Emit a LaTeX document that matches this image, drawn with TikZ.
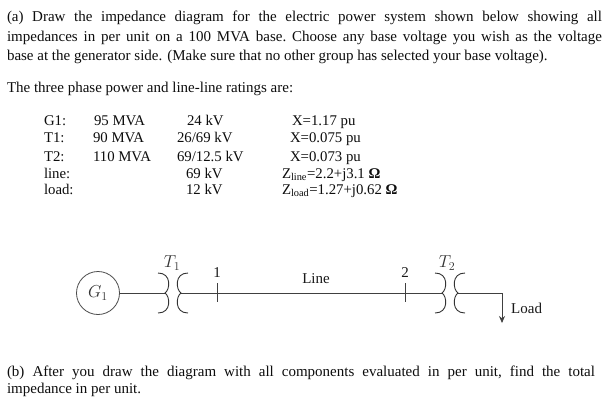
\documentclass[tikz,border=0pt]{standalone}
\usepackage{fontspec}
\setmainfont{Liberation Serif}
\usetikzlibrary{arrows.meta}
\tikzset{
  txt/.style={anchor=base west,inner sep=0pt,outer sep=0pt,font=\fontsize{15}{17}\selectfont,text=black!95},
  tab/.style={txt,font=\fontsize{14.8}{17}\selectfont},
  lab/.style={inner sep=0pt,font=\fontsize{15}{17}\selectfont,text=black!90},
  sym/.style={inner sep=0pt,font=\fontsize{17}{19}\selectfont,text=black!80},
  wire/.style={draw=black!75,line width=0.8pt},
  coil/.style={draw=black!80,line width=0.9pt},
}
\begin{document}
\begin{tikzpicture}[x=1pt,y=-1pt]
\useasboundingbox[fill=white] (0,0) rectangle (607,402);
\node[txt] (p1) at (7,21) {\makebox[595pt][s]{(a)\hfil Draw\hfil the\hfil impedance\hfil diagram\hfil for\hfil the\hfil electric\hfil power\hfil system\hfil shown\hfil below\hfil showing\hfil all}};
\node[txt] (p2) at (7,41) {\makebox[595pt][s]{impedances\hfil in\hfil per\hfil unit\hfil on\hfil a\hfil 100\hfil MVA\hfil base.\hfil Choose\hfil any\hfil base\hfil voltage\hfil you\hfil wish\hfil as\hfil the\hfil voltage}};
\node[txt] (p3) at (7,60) {base at the generator side. (Make sure that no other group has selected your base voltage).};
\node[txt] (p4) at (7,92) {The three phase power and line-line ratings are:};
\foreach \n/\y/\a/\xb/\b/\xc/\c/\xd/\d in {
 r1/125/G1:/94/95 MVA/187/24 kV/292/X=1.17 pu,
 r2/142/T1:/93/90 MVA/177/26\slash 69 kV/290/X=0.075 pu,
 r3/161/T2:/93/110 MVA/177/69\slash 12.5 kV/290/X=0.073 pu,
 r4/178/line:/0/{}/186/69 kV/282/{Z\textsubscript{line}=2.2+j3.1 \textbf{Ω}},
 r5/194/load:/0/{}/186/12 kV/282/{Z\textsubscript{load}=1.27+j0.62 \textbf{Ω}}}{
  \node[tab] (\n a) at (44,\y) {\a};
  \node[tab] (\n b) at (\xb,\y) {\b};
  \node[tab] (\n c) at (\xc,\y) {\c};
  \node[tab] (\n d) at (\xd,\y) {\d};
}
\node[txt] (q1) at (7,376) {\makebox[588pt][s]{(b)\hfil After\hfil you\hfil draw\hfil the\hfil diagram\hfil with\hfil all\hfil components\hfil evaluated\hfil in\hfil per\hfil unit,\hfil find\hfil the\hfil total}};
\node[txt] (q2) at (7,393) {impedance in per unit.};
% one-line diagram
\node[circle,draw=black!70,line width=0.8pt,minimum size=43pt,inner sep=0pt,sym] (G) at (98,293) {$G_1$};
\coordinate (t1l) at (165,293);
\coordinate (t1r) at (181,293);
\coordinate (t2l) at (442,293);
\coordinate (t2r) at (458,293);
\coordinate (b1t) at (217,283);
\coordinate (b1b) at (217,302);
\coordinate (b2t) at (405,283);
\coordinate (b2b) at (405,302);
\coordinate (corner) at (502,293);
\coordinate (loadend) at (502,323);
\draw[wire] (G.east) -- (t1l);
\draw[wire] (t1r) -- (t2l);
\draw[wire] (t2r) -- (corner);
\draw[wire,-{Stealth[length=7pt,width=6pt]}] (corner) -- (loadend);
\draw[wire] (b1t) -- (b1b);
\draw[wire] (b2t) -- (b2b);
\foreach \c in {t1l,t2l}{
  \draw[coil] ([shift={(-7,-20)}]\c) .. controls ([shift={(7,-20)}]\c) and ([shift={(5,-3)}]\c) .. (\c)
     .. controls ([shift={(5,3)}]\c) and ([shift={(7,20)}]\c) .. ([shift={(-7,20)}]\c);
}
\foreach \c in {t1r,t2r}{
  \draw[coil] ([shift={(7,-20)}]\c) .. controls ([shift={(-7,-20)}]\c) and ([shift={(-5,-3)}]\c) .. (\c)
     .. controls ([shift={(-5,3)}]\c) and ([shift={(-7,20)}]\c) .. ([shift={(7,20)}]\c);
}
\node[sym] (T1) at (172,263) {$T_1$};
\node[sym] (T2) at (447,263) {$T_2$};
\node[lab] (n1) at (217,273) {1};
\node[lab] (n2) at (405,273) {2};
\node[lab] (L) at (316,279) {Line};
\node[lab,anchor=west] (Ld) at (511,308) {Load};
\end{tikzpicture}
\end{document}
